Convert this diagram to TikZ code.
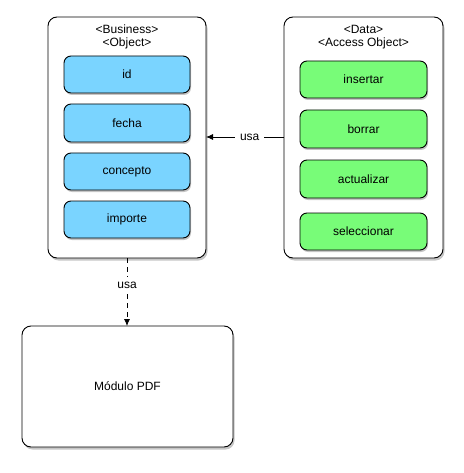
\documentclass[tikz,border=0pt]{standalone}
\usepackage{fontspec}
\setmainfont{Liberation Sans}
\usetikzlibrary{shadows,arrows.meta}
\definecolor{blueattr}{RGB}{122,212,255}
\definecolor{greenop}{RGB}{120,252,120}
\tikzset{
  outer/.style={draw=black, fill=white, rounded corners=9pt, line width=0.9pt,
    drop shadow={shadow xshift=1.5pt, shadow yshift=-2.5pt, opacity=0.45}},
  attr/.style={draw=black, fill=blueattr, rounded corners=7pt, line width=0.9pt,
    drop shadow={shadow xshift=1pt, shadow yshift=-2pt, opacity=0.45}},
  op/.style={draw=black, fill=greenop, rounded corners=7pt, line width=0.9pt,
    drop shadow={shadow xshift=1pt, shadow yshift=-2pt, opacity=0.45}},
  lbl/.style={font=\fontsize{12}{13}\selectfont, inner sep=1pt},
  conn/.style={line width=0.8pt, -{Latex[length=7pt,width=6pt]}},
}
\begin{document}
\begin{tikzpicture}[x=1pt,y=-1pt]
\useasboundingbox (0,0) rectangle (463,473);
% Business object
\path[outer] (48,17) rectangle (206,258);
\node[lbl, align=center] (bt) at (127,37) {<Business>\\<Object>};
\coordinate (bo) at (127,258);
\coordinate (bright) at (206,137);
\path[attr] (64,56) rectangle (190,93);
\node[lbl] (id) at (127,74.5) {id};
\path[attr] (64,104) rectangle (190,142);
\node[lbl] (fecha) at (127,123) {fecha};
\path[attr] (64,153) rectangle (190,190);
\node[lbl] (concepto) at (127,171.5) {concepto};
\path[attr] (64,201) rectangle (190,238);
\node[lbl] (importe) at (127,219.5) {importe};
% Data access object
\path[outer] (284,17) rectangle (443,258);
\node[lbl, align=center] (dt) at (363.5,37) {<Data>\\<Access Object>};
\coordinate (dleft) at (284,137);
\path[op] (300,61) rectangle (427,98);
\node[lbl] (ins) at (363.5,79.5) {insertar};
\path[op] (300,110) rectangle (427,148);
\node[lbl] (bor) at (363.5,129) {borrar};
\path[op] (300,160) rectangle (427,198);
\node[lbl] (act) at (363.5,179) {actualizar};
\path[op] (300,213) rectangle (427,250);
\node[lbl] (sel) at (363.5,231.5) {seleccionar};
% PDF module
\path[outer] (22,326) rectangle (233,447);
\node[lbl] (pdf) at (127.5,386.5) {Módulo PDF};
\coordinate (pdftop) at (127,326);
% connectors
\draw[conn] (dleft) -- node[lbl, fill=white, inner sep=5pt, pos=0.44] (u1) {usa} (bright);
\draw[conn, dashed, dash pattern=on 5pt off 4pt] (bo) -- node[lbl, fill=white, inner sep=5pt, pos=0.4] (u2) {usa} (pdftop);
\end{tikzpicture}
\end{document}
